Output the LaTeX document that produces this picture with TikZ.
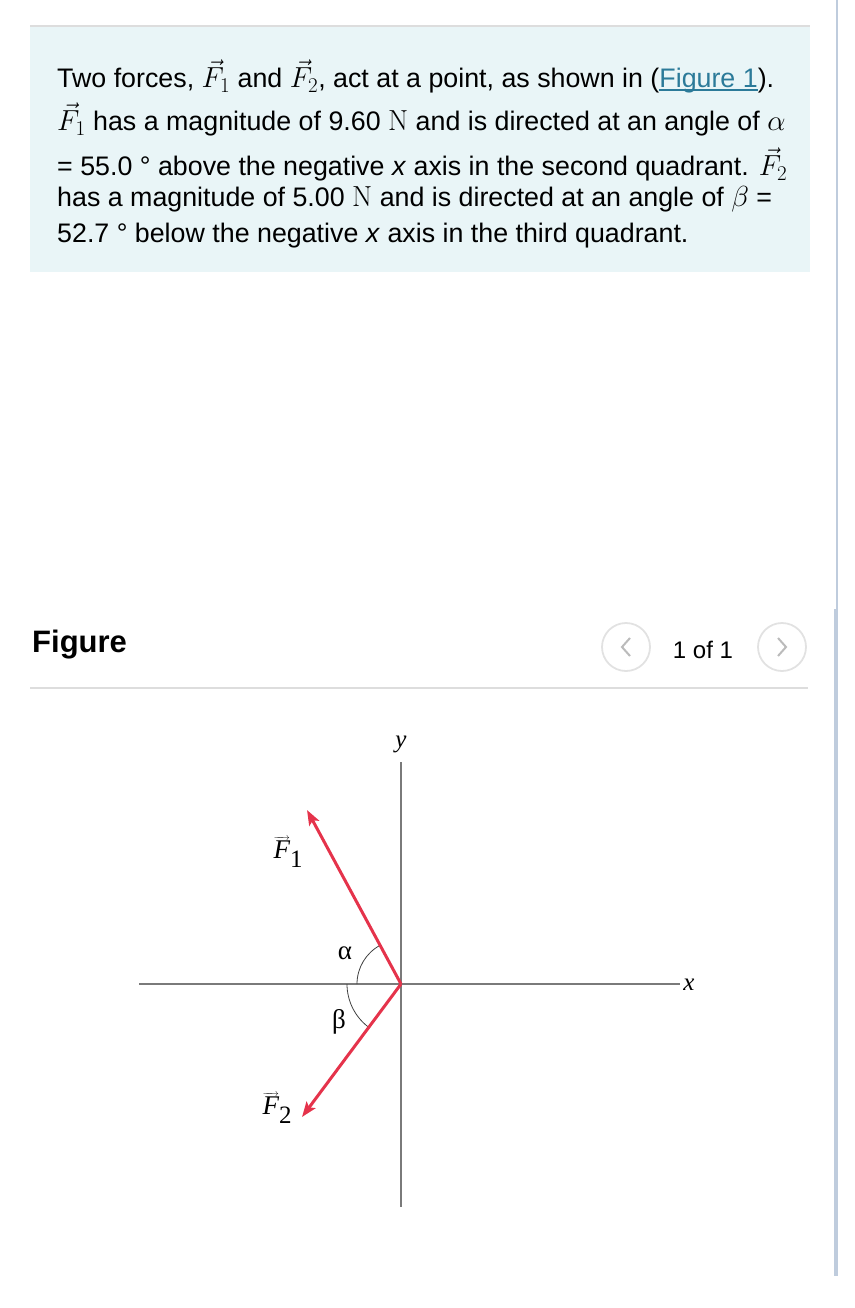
\RequirePackage{fix-cm}
\documentclass[tikz,border=0pt]{standalone}
\usepackage{amsmath}
\usepackage[no-math]{fontspec}
\setmainfont{Liberation Sans}
\newfontfamily\figserif{Liberation Serif}
\usetikzlibrary{arrows.meta,positioning}
\DeclareMathSizes{26.8}{29}{21}{16}

\definecolor{boxblue}{HTML}{E9F5F7}
\definecolor{rulegray}{HTML}{DDDDDD}
\definecolor{linkteal}{HTML}{2B7A99}
\definecolor{forcered}{HTML}{E5334B}
\definecolor{axisgray}{HTML}{7A7A7A}
\definecolor{sidebar}{HTML}{BFCCDD}
\definecolor{navgray}{HTML}{E2E2E2}
\definecolor{chevgray}{HTML}{BBBBBB}

\newcommand{\bodytext}{\fontsize{26.8}{36}\selectfont}
\newcommand{\figlab}{\fontsize{27}{30}\selectfont\figserif}
\newcommand{\vecF}[1]{$\overrightarrow{\text{\figlab\itshape F}}$\raisebox{-9pt}{\fontsize{25}{28}\selectfont\figserif #1}}
\newcommand{\linku}[1]{\setbox0\hbox{#1}\rlap{\rule[-2.8pt]{\wd0}{1.3pt}}\box0}

\begin{document}
\begin{tikzpicture}
[x=1pt, y=-1pt,
textline/.style={anchor=base west, inner sep=0pt, font=\bodytext},
force/.style={forcered, line width=3pt, -{Stealth[length=15pt,width=11pt,inset=3pt]}},
axis/.style={axisgray, line width=2pt},
anglearc/.style={black!75, line width=0.8pt},
navcircle/.style={circle, draw=navgray, line width=1.8pt, minimum size=48pt, inner sep=0pt},
]
\useasboundingbox (0,0) rectangle (854,1308);
% question box
\fill[boxblue] (30,27) rectangle (810,272);
\draw[rulegray, line width=2pt] (30,26) -- (810,26);
\node[textline] (l1) at (57,88) {Two forces, $\vec{F}_1$ and $\vec{F}_2$, act at a point, as shown in ({\color{linkteal}\linku{Figure 1}}).};
\node[textline] (l2) at (57,131) {$\vec{F}_1$ has a magnitude of 9.60 $\mathrm{N}$ and is directed at an angle of $\alpha$};
\node[textline] (l3) at (57,176) {= 55.0 \textdegree{} above the negative \textit{x} axis in the second quadrant. $\vec{F}_2$};
\node[textline] (l4) at (57,207) {has a magnitude of 5.00 $\mathrm{N}$ and is directed at an angle of $\beta$ =};
\node[textline] (l5) at (57,242) {52.7 \textdegree{} below the negative \textit{x} axis in the third quadrant.};
% side bar
\fill[sidebar] (835.7,0) rectangle (837.7,609);
\fill[sidebar] (834,609) rectangle (837.7,1276);
% figure header
\node[anchor=base west, inner sep=0pt, font=\fontsize{31}{36}\selectfont\bfseries] (figtitle) at (32,652) {Figure};
\draw[rulegray, line width=2pt] (30,688) -- (808,688);
\node[navcircle] (prev) at (626,647) {};
\node[navcircle] (next) at (782,647) {};
\draw[chevgray, line width=2pt] ([xshift=4pt,yshift=9pt]prev.center) -- ([xshift=-4pt]prev.center) -- ([xshift=4pt,yshift=-9pt]prev.center);
\draw[chevgray, line width=2pt] ([xshift=-4pt,yshift=9pt]next.center) -- ([xshift=4pt]next.center) -- ([xshift=-4pt,yshift=-9pt]next.center);
\node[anchor=base, inner sep=0pt, font=\fontsize{24}{28}\selectfont] (pagecount) at (703,658) {1 of 1};
% axes
\coordinate (O) at (401,984);
\coordinate (xl) at (139,984);
\coordinate (xr) at (680,984);
\coordinate (yt) at (401,762);
\coordinate (yb) at (401,1207);
\draw[axis] (xl) -- (xr);
\draw[axis] (yt) -- (yb);
\node[font=\fontsize{25}{28}\selectfont\figserif\itshape, inner sep=0pt] (xlab) at (689,985) {x};
\node[font=\fontsize{25}{28}\selectfont\figserif\itshape, inner sep=0pt] (ylab) at (401,744) {y};
% forces
\coordinate (f1tip) at (307,810);
\coordinate (f2tip) at (302,1117);
\draw[anglearc] ([xshift=-44pt]O) arc[start angle=180, end angle=241.5, radius=44];
\draw[anglearc] ([xshift=-54pt]O) arc[start angle=180, end angle=126.5, radius=54];
\draw[force] (O) -- (f1tip);
\draw[force] (O) -- (f2tip);
\node[inner sep=0pt] (f1lab) at (288,852) {\vecF{1}};
\node[inner sep=0pt] (f2lab) at (277,1108) {\vecF{2}};
\node[inner sep=0pt, font=\fontsize{27}{30}\selectfont\figserif] (alab) at (345,953) {α};
\node[inner sep=0pt, font=\fontsize{27}{30}\selectfont\figserif] (blab) at (339,1022) {β};
\end{tikzpicture}
\end{document}
